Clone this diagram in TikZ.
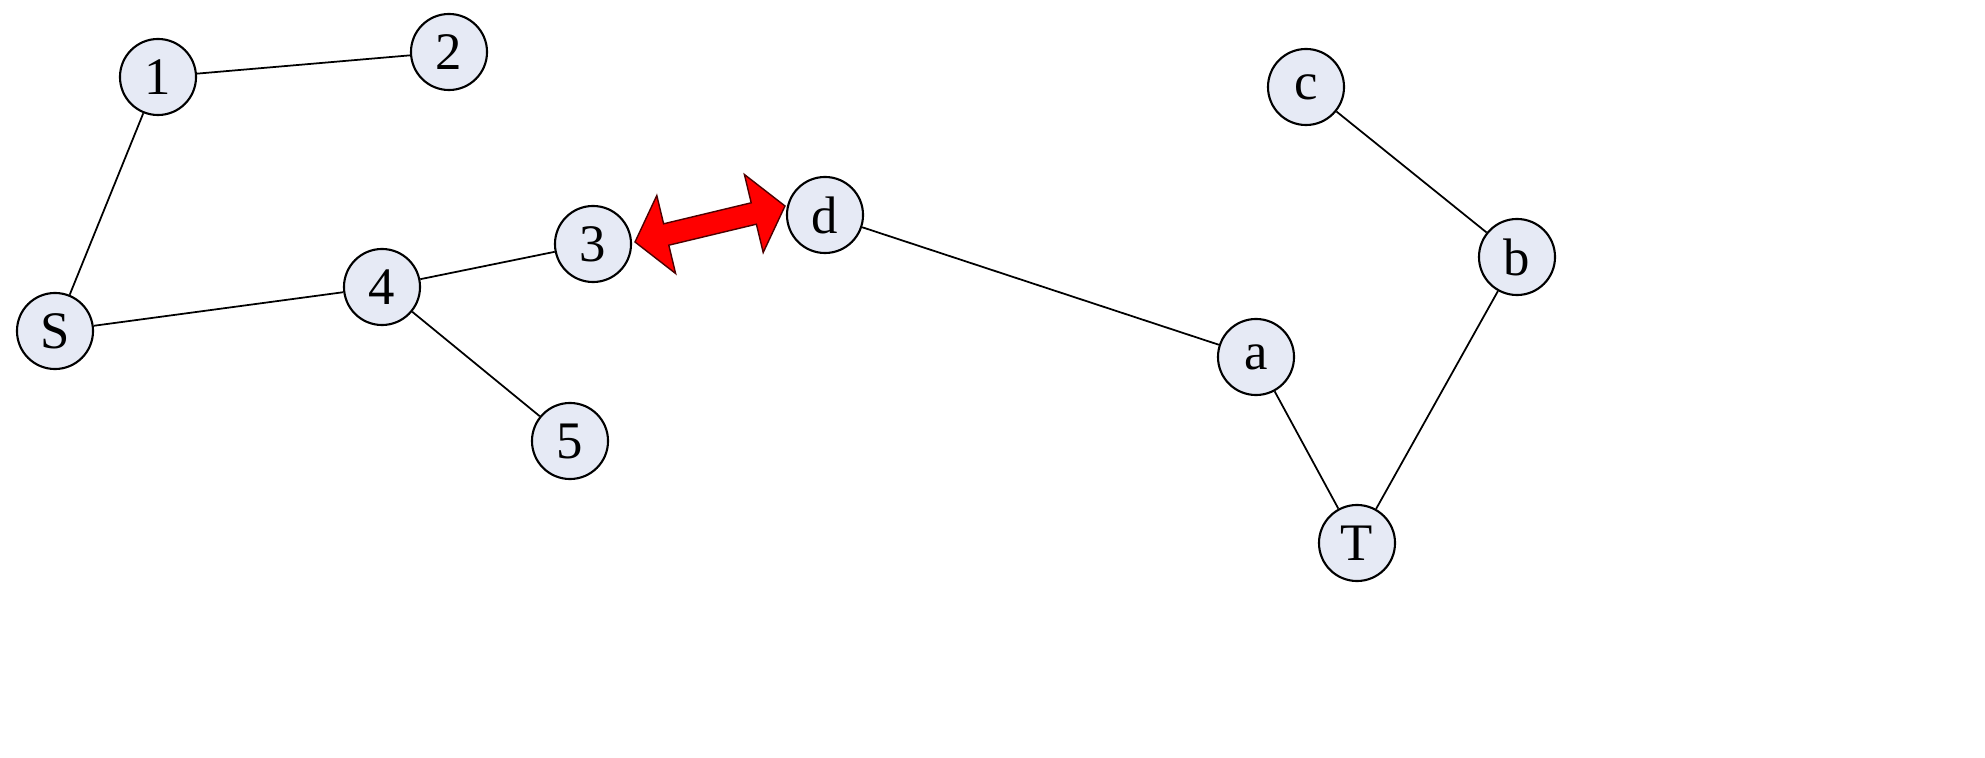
\documentclass[tikz,border=0pt]{standalone}
\usepackage{fontspec}
\setmainfont{Liberation Serif}
\begin{document}
\begin{tikzpicture}[x=0.01cm,y=-0.01cm,
  vtx/.style={circle,draw,fill={rgb,255:red,230;green,234;blue,245},minimum size=0.76cm,inner sep=0pt,font=\fontsize{15}{15}\selectfont,line width=0.6pt},
  edge/.style={line width=0.5pt}]
\useasboundingbox (0,0) rectangle (1985,758);
\node[vtx] (n1) at (158,77) {1};
\node[vtx] (n2) at (449,52) {2};
\node[vtx] (S) at (55,331) {S};
\node[vtx] (n4) at (382,287) {4};
\node[vtx] (n3) at (593,244) {3};
\node[vtx] (n5) at (570,441) {5};
\node[vtx] (d) at (825,215) {d};
\node[vtx] (c) at (1306,87) {c};
\node[vtx] (b) at (1517,257) {b};
\node[vtx] (a) at (1256,357) {a};
\node[vtx] (T) at (1357,543) {T};
\draw[edge] (n1)--(n2);
\draw[edge] (n1)--(S);
\draw[edge] (S)--(n4);
\draw[edge] (n4)--(n3);
\draw[edge] (n4)--(n5);
\draw[edge] (d)--(a);
\draw[edge] (a)--(T);
\draw[edge] (T)--(b);
\draw[edge] (b)--(c);
\draw[fill=red,draw=black!70!red,line width=0.4pt] (635,242)--(675.6,273.5)--(668.8,245.2)--(756.4,224.2)--(763.2,252.5)--(785,206)--(744.4,174.5)--(751.2,202.8)--(663.6,223.8)--(656.8,195.5)--cycle;
\end{tikzpicture}
\end{document}
